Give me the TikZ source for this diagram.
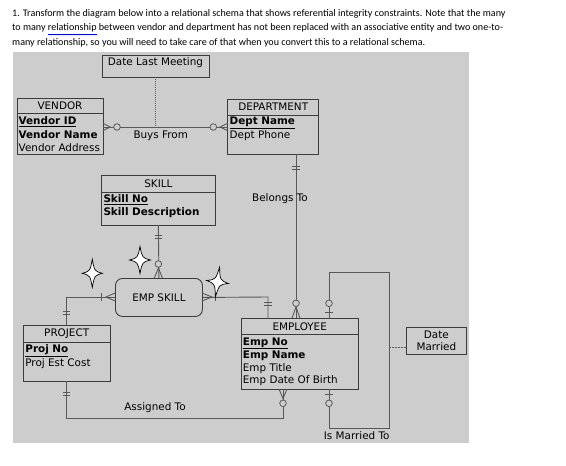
\documentclass[tikz,border=0pt]{standalone}
\usepackage{fontspec}
\setmainfont{Carlito}
\newfontfamily\dgf{DejaVu Sans}
\definecolor{bg}{HTML}{CDCDCD}
\definecolor{ln}{HTML}{585858}
\definecolor{bx}{HTML}{3C3C3C}
\begin{document}
\begin{tikzpicture}[x=1pt,y=-1pt,
  ent/.style={draw=bx,line width=0.9pt,anchor=north west,inner sep=0,outer sep=0},
  ttl/.style={font=\dgf\fontsize{10.4}{11.7}\selectfont,inner sep=0,text=black},
  att/.style={font=\dgf\fontsize{10.4}{12}\selectfont,inner sep=0,anchor=west,text=black},
  rel/.style={draw=ln,line width=0.9pt},
  hdr/.style={draw=bx,line width=0.9pt},
  ring/.style={draw=ln,line width=0.8pt,fill=bg},
  dotl/.style={draw=ln,line width=0.8pt,dash pattern=on 1pt off 1pt},
  dashl/.style={draw=ln,line width=0.8pt,dash pattern=on 2pt off 1pt},
  q/.style={font=\fontsize{10.1}{12}\selectfont,inner sep=0,anchor=west,text=black},
  spark/.style={fill=white,draw=black,line width=0.7pt}]

\path[use as bounding box,fill=white] (0,0) rectangle (566,466);
\fill[bg] (13,52) rectangle (469,443);

% question text
\node[q] (q1) at (12,14) {1. Transform the diagram below into a relational schema that shows referential integrity constraints. Note that the many};
\node[q] (q2) at (12,29) {to many \rlap{\color{blue}\underline{\phantom{relationship}}}relationship between vendor and department has not been replaced with an associative entity and two one-to-};
\node[q] (q3) at (12,43) {many relationship, so you will need to take care of that when you convert this to a relational schema.};

% Date Last Meeting
\node[ent,minimum width=107pt,minimum height=22pt] (dlm) at (102,55) {};
\node[ttl] (dlmt) at (155.5,62.5) {Date Last Meeting};

% VENDOR
\node[ent,minimum width=86pt,minimum height=56pt] (vendor) at (17,98) {};
\draw[hdr] (17,113) -- (103,113);
\node[ttl] (vendort) at (60,105.7) {VENDOR};
\node[att] (v1) at (18.5,121.7) {\bfseries\underline{Vendor ID}};
\node[att] (v2) at (18.5,134.5) {\bfseries Vendor Name};
\node[att] (v3) at (18.5,147.5) {Vendor Address};

% DEPARTMENT
\node[ent,minimum width=91pt,minimum height=55pt] (dept) at (227.7,99) {};
\draw[hdr] (227.7,115) -- (318.7,115);
\node[ttl] (deptt) at (273.2,106.5) {DEPARTMENT};
\node[att] (d1) at (229.5,123) {\bfseries\underline{Dept Name}};
\node[att] (d2) at (229.5,135.7) {Dept Phone};

% SKILL
\node[ent,minimum width=113.3pt,minimum height=49.3pt] (skill) at (101.7,175.7) {};
\draw[hdr] (101.7,192.3) -- (215,192.3);
\node[ttl] (skillt) at (158.4,184) {SKILL};
\node[att] (s1) at (103.3,200) {\bfseries\underline{Skill No}};
\node[att] (s2) at (103.3,213) {\bfseries Skill Description};

% EMP SKILL
\node[draw=bx,line width=0.9pt,rounded corners=7pt,minimum width=87pt,minimum height=38pt,anchor=north west,inner sep=0,font=\dgf\fontsize{10.4}{12}\selectfont] (empskill) at (115,278) {EMP SKILL};

% PROJECT
\node[ent,minimum width=86.7pt,minimum height=56pt] (project) at (23.3,325) {};
\draw[hdr] (23.3,342.3) -- (110,342.3);
\node[ttl] (projectt) at (66.7,334) {PROJECT};
\node[att] (p1) at (25.2,350.7) {\bfseries\underline{Proj No}};
\node[att] (p2) at (25.2,363.3) {Proj Est Cost};

% EMPLOYEE
\node[ent,minimum width=117.3pt,minimum height=70.7pt] (emp) at (241,318.3) {};
\draw[hdr] (241,334) -- (358.3,334);
\node[ttl] (empt) at (299.7,326.5) {EMPLOYEE};
\node[att] (e1) at (242.7,343.3) {\bfseries\underline{Emp No}};
\node[att] (e2) at (242.7,355.7) {\bfseries Emp Name};
\node[att] (e3) at (242.7,368.3) {Emp Title};
\node[att] (e4) at (242.7,381) {Emp Date Of Birth};

% Date Married
\node[ent,minimum width=59.3pt,minimum height=26.6pt,align=center,font=\dgf\fontsize{10.4}{11.7}\selectfont] (dm) at (406.7,327.7) {Date\\Married};

% ---- Buys From (M:N)
\coordinate (bf) at (160,127);
\draw[rel] (vendor.east |- bf) -- (dept.west |- bf);
\draw[rel] (103,123.3) -- (110,127) -- (103,130.7);
\draw[ring] (117,127) circle (3.3);
\draw[rel] (227.7,123.3) -- (220,127) -- (227.7,130.7);
\draw[ring] (213.3,127) circle (3.3);
\draw[dotl] (dlm.south) -- (dlm.south |- bf);
\node[ttl] (bft) at (160.7,136) {Buys From};

% ---- Belongs To
\coordinate (bt) at (296,199);
\draw[rel] (dept.south -| bt) -- (emp.north -| bt);
\draw[rel] (292.3,166) -- (299.7,166) (292.3,169) -- (299.7,169);
\draw[ring] (296,303.3) circle (3.3);
\draw[rel] (292,318.3) -- (296,307) -- (300,318.3);
\node[ttl] (btt) at (280,199) {Belongs To};

% ---- Skill - Emp Skill
\draw[rel] (skill.south) -- (empskill.north);
\draw[rel] (154.7,235) -- (162.1,235) (154.7,238) -- (162.1,238);
\draw[ring] (158.4,264) circle (3.3);
\draw[rel] (154.4,278) -- (158.4,268) -- (162.4,278);

% ---- Emp Skill - Project
\draw[rel] (empskill.west) -| (project.north);
\draw[rel] (115,293) -- (106,297) -- (115,301);
\draw[rel] (101,293) -- (101,301);
\draw[rel] (63,311) -- (70.4,311) (63,314) -- (70.4,314);

% ---- Emp Skill - Employee
\coordinate (ek) at (268,297);
\draw[rel] (empskill.east) -- (ek) -- (emp.north -| ek);
\draw[rel] (202,293) -- (212,297) -- (202,301);
\draw[rel] (215.5,293) -- (215.5,301);
\draw[rel] (264.3,302) -- (271.7,302) (264.3,305) -- (271.7,305);

% ---- Assigned To
\coordinate (as) at (283,418.3);
\draw[rel] (project.south) |- (as) -- (emp.south -| as);
\draw[rel] (63,392) -- (70.4,392) (63,395) -- (70.4,395);
\draw[ring] (283,403.3) circle (3.3);
\draw[rel] (279,389) -- (283,398.5) -- (287,389);
\node[ttl] (ast) at (155,408) {Assigned To};

% ---- Is Married To
\coordinate (mt) at (329,272.7);
\coordinate (mr) at (389,272.7);
\coordinate (mrb) at (389,428.3);
\coordinate (mb) at (329,428.3);
\draw[rel] (emp.north -| mt) -- (mt) -- (mr) -- (mrb) -- (mb) -- (emp.south -| mb);
\draw[ring] (329,303.3) circle (3.3);
\draw[rel] (325.3,312) -- (332.7,312);
\draw[rel] (325.3,394) -- (332.7,394);
\draw[ring] (329,403.3) circle (3.3);
\node[ttl] (mtt) at (356.7,436) {Is Married To};
\coordinate (dl) at (389,347.7);
\draw[dashl] (dl) -- (dm.west |- dl);

% ---- sparkles
\begin{scope}[shift={(92.3,273.3)}]
\path[spark] (0,-14) .. controls (2.2,-2.2) .. (10,0) .. controls (2.2,2.2) .. (0,14) .. controls (-2.2,2.2) .. (-10,0) .. controls (-2.2,-2.2) .. (0,-14) -- cycle;
\end{scope}
\begin{scope}[shift={(140,260)}]
\path[spark] (0,-13.5) .. controls (2.2,-2.2) .. (10.5,0) .. controls (2.2,2.2) .. (0,13.5) .. controls (-2.2,2.2) .. (-10.5,0) .. controls (-2.2,-2.2) .. (0,-13.5) -- cycle;
\end{scope}
\begin{scope}[shift={(217.5,282)},rotate=-8]
\path[spark] (0,-15) .. controls (2.2,-2.2) .. (11,0) .. controls (2.2,2.2) .. (0,15) .. controls (-2.2,2.2) .. (-11,0) .. controls (-2.2,-2.2) .. (0,-15) -- cycle;
\end{scope}
\end{tikzpicture}
\end{document}
